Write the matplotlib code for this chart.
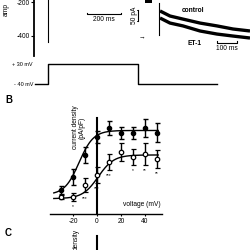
import numpy as np
import matplotlib
matplotlib.use("Agg")
import matplotlib.pyplot as plt

plt.rcParams['font.family'] = ['Liberation Sans', 'DejaVu Sans']

# ---------------- data ----------------
# Panel A, left trace (current, pA) and voltage protocol
left_t = [0, 0]                      # ms
left_I = [-180, -435]                # pA
protocol_t = [-75, 0, 0, 530, 530, 995]   # ms
protocol_v = [-40, -40, 30, 30, -40, -40]  # mV

# Panel A, right traces (ms, pA)
trace_t = [5, 55, 120, 205, 290, 370, 455]
control_I = [132, 109, 95, 77, 64, 50, 41]
et1_I = [100, 77, 64, 41, 27, 18, 9]
transient_t = [0, 0]
transient_I = [23, 168]

# Panel B: current density vs voltage
voltage = [-30, -20, -10, 0, 10, 20, 30, 40, 50]
ctrl_mean = [2.5, 3.85, 6.15, 8.0, 8.95, 8.45, 8.45, 8.95, 8.45]
ctrl_err = [0.4, 0.8, 0.8, 0.6, 0.7, 0.6, 0.6, 0.9, 1.0]
et1_mean = [1.77, 1.77, 3.0, 4.06, 5.4, 6.45, 5.94, 6.25, 5.73]
et1_err = [0.2, 0.4, 0.75, 0.8, 0.8, 0.9, 0.8, 1.1, 0.9]
sig_v = [-20, -10, 0, 10, 30, 40, 50]
sig_txt = ['*', '***', '***', '***', '*', '**', '**']
# Boltzmann fit parameters (min, max, V1/2, k)
ctrl_fit = (2.0, 8.7, -15.0, 6.0)
et1_fit = (1.6, 6.15, 1.0, 6.5)

W = H = 250.0
fig = plt.figure(figsize=(2.5, 2.5), dpi=100)


def add_px(x0, y0, x1, y1):
    return fig.add_axes([x0 / W, 1 - y1 / H, (x1 - x0) / W, (y1 - y0) / H])


fs = 4.8

# ---- overlay for labels ----
ov = add_px(0, 0, 250, 250)
ov.set_xlim(0, 250)
ov.set_ylim(250, 0)
ov.axis('off')
ov.text(5, 100, 'B', fontsize=7, fontweight='bold', ha='left', va='center')
ov.text(5, 233, 'C', fontsize=7, fontweight='bold', ha='left', va='center')
ov.text(6, 9, 'amp', rotation=90, fontsize=fs, ha='center', va='center')

# ---- A left: current trace ----
axL = add_px(34, 0, 140, 56)
axL.set_xlim(-82, 541)
axL.set_ylim(-518, -188)
axL.plot(left_t, left_I, color='black', lw=0.8)
for s in ['top', 'right', 'bottom']:
    axL.spines[s].set_visible(False)
axL.spines['left'].set_linewidth(1.3)
axL.set_xticks([])
axL.set_yticks([-200, -400])
axL.set_yticklabels(['-200', '-400'], fontsize=fs)
axL.tick_params(axis='y', length=2, width=0.8, pad=1)
axL.patch.set_alpha(0)
# 200 ms scale bar
axL.plot([229, 229, 429, 429], [-262, -271, -271, -262], color='black', lw=0.8)
axL.text(329, -285, '200 ms', fontsize=fs, ha='center', va='top')

# ---- A protocol ----
axP = add_px(30, 55, 250, 95)
axP.set_xlim((30 - 48) / 0.17, (250 - 48) / 0.17)
axP.set_ylim(-40 - (95 - 84) * 3.5, 30 + (64 - 55) * 3.5)
axP.axis('off')
axP.plot(protocol_t, protocol_v, color='black', lw=1.0)
ov.text(33, 64, '+ 30 mV', fontsize=4, ha='right', va='center')
ov.text(33, 84, '- 40 mV', fontsize=4, ha='right', va='center')

# ---- A right traces ----
axR = add_px(125, 0, 250, 50)
axR.set_xlim((125 - 159) / 0.2, (250 - 159) / 0.2)
axR.set_ylim((40 - 50) / 0.22, 40 / 0.22)
axR.axis('off')
axR.plot(transient_t, transient_I, color='black', lw=0.8)
axR.plot(trace_t, control_I, color='black', lw=2.4, solid_capstyle='butt')
axR.plot(trace_t, et1_I, color='black', lw=2.4, solid_capstyle='butt')
axR.add_patch(plt.Rectangle((-70, 168), 35, 20, color='black', lw=0))
# 50 pA scale bar
axR.plot([-105, -105], [136, 86], color='black', lw=0.8)
axR.plot([-110, -105], [136, 136], color='black', lw=0.6)
axR.plot([-110, -105], [86, 86], color='black', lw=0.6)
axR.text(-122, 111, '50 pA', rotation=90, fontsize=fs, ha='center', va='center')
axR.text(-85, 14, '\u2192', fontsize=fs, ha='center', va='center')
axR.text(170, 135, 'control', fontsize=fs, fontweight='bold', ha='center', va='center')
axR.text(180, -14, 'ET-1', fontsize=fs, fontweight='bold', ha='center', va='center')
# 100 ms scale bar
axR.plot([290, 290, 390, 390], [-5, -14, -14, -5], color='black', lw=0.8)
axR.text(340, -22, '100 ms', fontsize=fs, ha='center', va='top')

# ---- Panel B ----
axB = add_px(50, 118, 162, 214)
axB.set_xlim((50 - 97) / 1.2, (162 - 97) / 1.2)
axB.set_ylim(0, 10)
axB.patch.set_alpha(0)
vv = np.linspace(-36, 51, 200)


def boltz(v, p):
    lo, hi, vh, k = p
    return lo + (hi - lo) / (1 + np.exp(-(v - vh) / k))


axB.plot(vv, boltz(vv, ctrl_fit), color='black', lw=1.0)
axB.plot(vv, boltz(vv, et1_fit), color='black', lw=1.0)
axB.errorbar(voltage, ctrl_mean, yerr=ctrl_err, fmt='o', color='black', ms=3,
             mfc='black', mec='black', elinewidth=1.0, capsize=1.8, capthick=1.0, zorder=3)
axB.errorbar(voltage, et1_mean, yerr=et1_err, fmt='o', color='black', ms=3.2,
             mfc='white', mec='black', mew=0.9, elinewidth=1.0, capsize=1.8, capthick=1.0, zorder=3)
for v, t in zip(sig_v, sig_txt):
    i = voltage.index(v)
    axB.annotate(t, (v, et1_mean[i] - et1_err[i]), xytext=(0, -2.5), textcoords='offset points',
                 fontsize=3.5, ha='center', va='top')
for s in ['top', 'right']:
    axB.spines[s].set_visible(False)
axB.spines['left'].set_position(('data', 0))
axB.spines['left'].set_linewidth(1.5)
axB.spines['bottom'].set_linewidth(1.0)
axB.set_yticks([])
axB.set_xticks([-20, 0, 20, 40])
axB.set_xticklabels(['-20', '0', '20', '40'], fontsize=fs)
axB.tick_params(axis='x', length=1.5, width=0.8, pad=1.5)
axB.text(-15, 9.0, 'current density\n(pA/pF)', rotation=90, fontsize=fs,
         ha='center', va='center', linespacing=1.0)
axB.text(53, 0.6, 'voltage (mV)', fontsize=fs, ha='right', va='bottom')

# ---- Panel C fragment ----
ov.plot([97, 97], [236, 251], color='black', lw=1.5)
ov.text(76, 229, 'density', rotation=90, fontsize=fs, ha='center', va='top')

fig.savefig('out.png', dpi=100)
